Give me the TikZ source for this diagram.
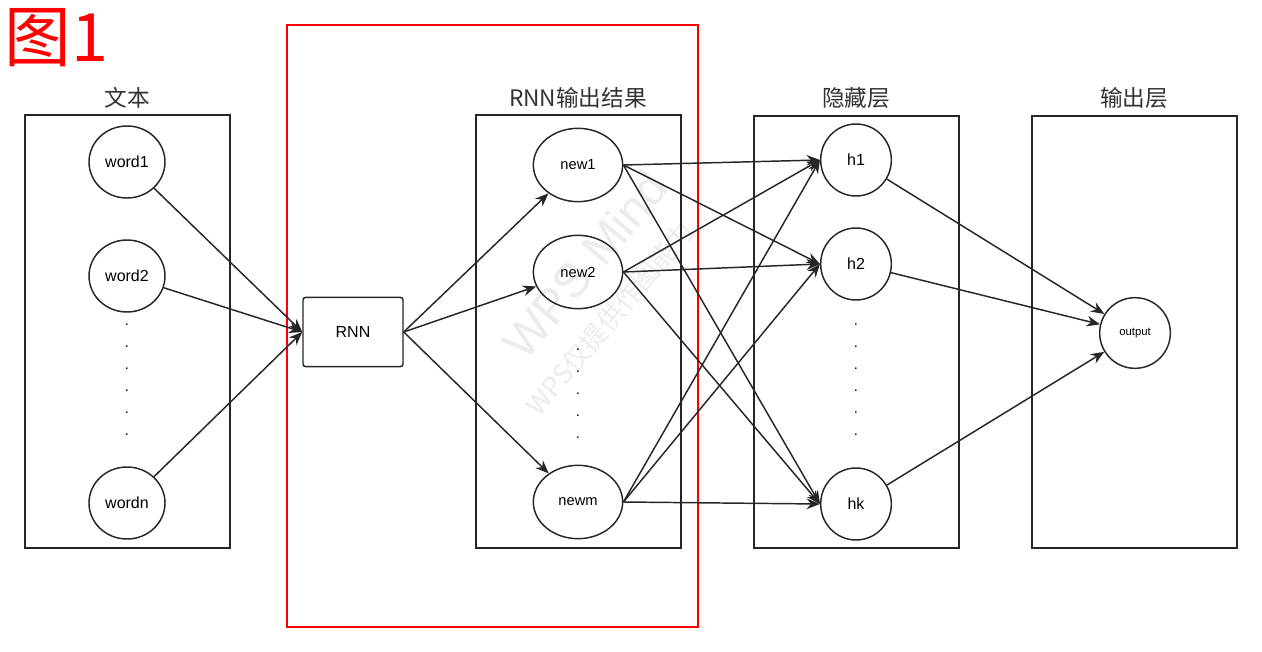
\documentclass[tikz,border=0pt]{standalone}
\usepackage{fontspec}
\setmainfont{Liberation Sans}
\newfontfamily\cjk{Noto Sans CJK SC}
\usetikzlibrary{arrows.meta,shapes.geometric}
\begin{document}
\begin{tikzpicture}[x=0.75pt,y=-0.75pt,
  box/.style={draw=black!85,line width=1.1pt},
  el/.style={draw=black!85,line width=1.1pt,ellipse,inner sep=0pt,font=\fontsize{12}{12}\selectfont},
  arr/.style={draw=black!85,line width=1.1pt,-{Stealth[length=10pt,width=8pt]}},
  ttl/.style={font=\cjk\fontsize{17}{17}\selectfont,text=black!80},
  dot/.style={font=\fontsize{11}{11}\selectfont}]
\useasboundingbox (0,0) rectangle (1262,652);
\node[text=black!8,rotate=50,font=\fontsize{36}{36}\selectfont] (wm1) at (585,265) {WPS Mind};
\node[text=black!8,rotate=50,font=\cjk\fontsize{20}{20}\selectfont] (wm2) at (610,318) {WPS仅提供作图能力};
\node[ttl] (t1) at (127,98) {文本};
\node[ttl] (t2) at (578,98) {RNN输出结果};
\node[ttl] (t3) at (856,98) {隐藏层};
\node[ttl] (t4) at (1134,98) {输出层};
\node[text=red,font=\cjk\fontsize{50}{50}\selectfont,anchor=west] (fig) at (0,38) {图1};
\draw[box] (25,115) rectangle (230,548);
\draw[box] (476,115) rectangle (681,548);
\draw[box] (754,116) rectangle (959,548);
\draw[box] (1032,116) rectangle (1237,548);
\draw[draw=red,line width=1pt] (287,25) rectangle (698,627);
\foreach \n/\y/\t in {w1/162/word1,w2/276/word2,wn/503/wordn}
  \node[el,minimum width=57pt,minimum height=54pt] (\n) at (127,\y) {\t};
\foreach \n/\y/\t in {n1/165/new1,n2/272/new2,nm/502/newm}
  \node[el,minimum width=67pt,minimum height=55pt,font=\fontsize{11}{11}\selectfont] (\n) at (578,\y) {\t};
\foreach \n/\y/\t in {h1/160/h1,h2/264/h2,hk/504/hk}
  \node[el,minimum width=53pt,minimum height=54pt] (\n) at (856,\y) {\t};
\node[el,minimum width=53pt,minimum height=53pt,font=\fontsize{8.5}{8.5}\selectfont] (out) at (1135,333) {output};
\node[draw=black!85,line width=1.1pt,rounded corners=2pt,minimum width=75pt,minimum height=52pt,font=\fontsize{12}{12}\selectfont] (rnn) at (353,332) {RNN};
\foreach \y in {325,347,369,391,413,435} \node[dot] (da\y) at (127,\y) {.};
\foreach \y in {350,372,394,416,438} \node[dot] (db\y) at (578,\y) {.};
\foreach \y in {325,347,369,391,413,435} \node[dot] (dc\y) at (856,\y) {.};
\draw[arr] (w1) -- (rnn.west);
\draw[arr] (w2) -- (rnn.west);
\draw[arr] (wn) -- (rnn.west);
\draw[arr] (rnn.east) -- (n1);
\draw[arr] (rnn.east) -- (n2);
\draw[arr] (rnn.east) -- (nm);
\foreach \a in {n1,n2,nm} \foreach \b in {h1,h2,hk} \draw[arr] (\a.east) -- (\b.west);
\foreach \b in {h1,h2,hk} \draw[arr] (\b) -- (out);
\end{tikzpicture}
\end{document}
